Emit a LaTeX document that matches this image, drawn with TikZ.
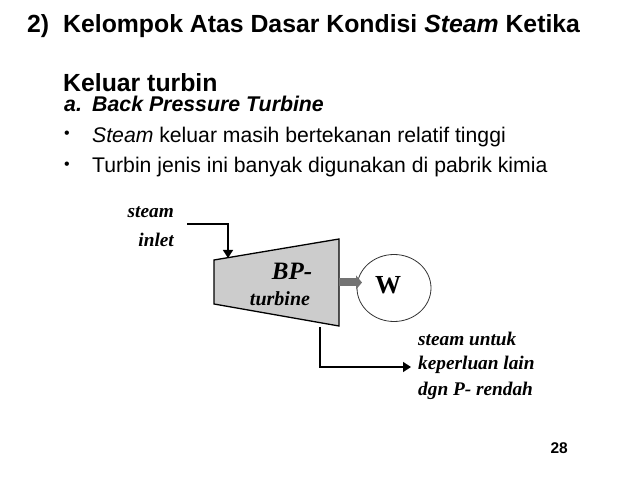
\documentclass[tikz,border=0pt]{standalone}
\usepackage{fontspec}
\setmainfont{Liberation Sans}
\newfontfamily\serifdgm{Liberation Serif}
\usetikzlibrary{arrows.meta,shapes.geometric}

\tikzset{
    heading/.style={anchor=base west, inner sep=0pt, font=\fontsize{24.8}{26}\selectfont\bfseries},
    subhead/.style={anchor=base west, inner sep=0pt, font=\fontsize{21.3}{24}\selectfont\bfseries\itshape},
    body/.style={anchor=base west, inner sep=0pt, font=\fontsize{21.2}{24}\selectfont},
    mark dot/.style={anchor=center, inner sep=0pt, font=\fontsize{16}{18}\selectfont},
    dgmlabel/.style={inner sep=0pt, font=\serifdgm\fontsize{19.3}{24}\selectfont\bfseries\itshape},
    flow/.style={draw=black, line width=1.4pt, -{Triangle[length=8pt,width=10pt]}}
}

\begin{document}
\begin{tikzpicture}[x=1pt, y=-1pt, >=stealth]
    \useasboundingbox (0,0) rectangle (638,478);

    % Slide text
    \node [heading] (title0) at (27,33)  {2)};
    \node [heading] (title1) at (63,33)  {Kelompok Atas Dasar Kondisi \textit{Steam} Ketika};
    \node [heading] (title2) at (63,92)  {Keluar turbin};
    \node [subhead] (suba)   at (64,112) {a.};
    \node [subhead] (subb)   at (92,112) {Back Pressure Turbine};
    \node [mark dot] (dot1)  at (67,135) {\textbullet};
    \node [body]    (line1)  at (92,143) {\textit{Steam} keluar masih bertekanan relatif tinggi};
    \node [mark dot] (dot2)  at (67,166) {\textbullet};
    \node [body]    (line2)  at (92,173) {Turbin jenis ini banyak digunakan di pabrik kimia};
    \node [anchor=base east, inner sep=0pt, font=\fontsize{15.5}{18}\selectfont\bfseries] (page) at (568,454) {28};

    % Turbine casing
    \coordinate (tl) at (214,260);
    \coordinate (tr) at (339,239);
    \coordinate (br) at (339,326);
    \coordinate (bl) at (214,304);
    \draw [line width=1.3pt, fill=black!20] (tl) -- (tr) -- (br) -- (bl) -- cycle;

    % Generator
    \node [ellipse, draw=black!80, line width=0.8pt, minimum width=74pt, minimum height=67pt, inner sep=0pt] (gen) at (394,288) {};
    \node [dgmlabel, font=\serifdgm\fontsize{26}{28}\selectfont\bfseries] (wlabel) at (388,285) {W};

    % Labels
    \node [dgmlabel, anchor=east] (inlet1) at (174,212) {steam};
    \node [dgmlabel, anchor=east] (inlet2) at (174,240) {inlet};
    \node [dgmlabel, font=\serifdgm\fontsize{25}{28}\selectfont\bfseries\itshape] (bp) at (292,271) {BP-};
    \node [dgmlabel, font=\serifdgm\fontsize{20}{24}\selectfont\bfseries\itshape] (turb) at (280,299) {turbine};
    \node [dgmlabel, anchor=west] (out1) at (418,339) {steam untuk};
    \node [dgmlabel, anchor=west] (out2) at (418,365) {keperluan lain};
    \node [dgmlabel, anchor=west] (out3) at (418,391) {dgn P- rendah};

    % Paths
    \coordinate (instart) at (187,224);
    \coordinate (inend)   at (228,258);
    \coordinate (shaft)   at (339,282.5);
    \coordinate (shaftend) at (362,282.5);
    \coordinate (outstart) at (320,327);
    \coordinate (outend)  at (411,367);
    \draw [flow] (instart) -| (inend);
    \draw [flow] (outstart) |- (outend);
    \draw [draw=black!55, line width=8pt, -{Triangle[length=6pt,width=14pt]}] (shaft) -- (shaftend);
\end{tikzpicture}
\end{document}
